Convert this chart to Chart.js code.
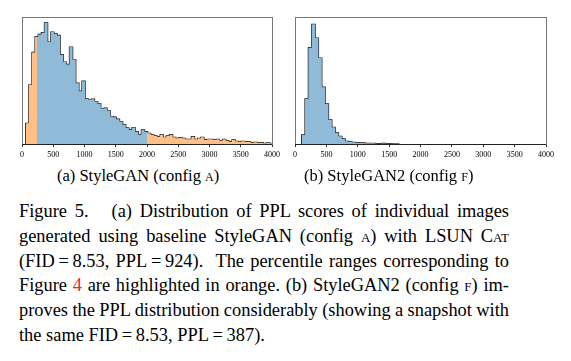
<!DOCTYPE html>
<html>
<head>
<meta charset="utf-8">
<script src="https://cdn.jsdelivr.net/npm/chart.js@4.4.0/dist/chart.umd.min.js"></script>
<style>
  body { margin:0; width:571px; height:361px; background:#fff; position:relative; overflow:hidden;
         font-family:"Liberation Serif","Times New Roman",serif; color:#000; }
  canvas { position:absolute; top:0; }
  #chartA { left:0; }
  #chartB { left:280px; }
  .cap { position:absolute; top:166px; font-size:16.5px; white-space:nowrap; }
  .sc { font-variant:small-caps; }
  #text { position:absolute; left:19px; top:199px; width:490px; font-size:18.4px; }
  #text div { height:24.8px; line-height:24.8px; text-align:justify; text-align-last:justify; word-spacing:-2px; }
  #text div.last { text-align-last:left; word-spacing:0; }
  .red { color:#e8262b; }
</style>
</head>
<body>
<canvas id="chartA" width="290" height="165"></canvas>
<canvas id="chartB" width="291" height="165"></canvas>
<div class="cap" style="left:57px">(a) StyleGAN (config <span class="sc">a</span>)</div>
<div class="cap" style="left:304px">(b) StyleGAN2 (config <span class="sc">f</span>)</div>
<div id="text">
  <div>Figure 5.&nbsp;&nbsp; (a) Distribution of PPL scores of individual images</div>
  <div>generated using baseline StyleGAN (config <span class="sc">a</span>) with LSUN C<span class="sc">at</span></div>
  <div>(FID&#8201;=&#8201;8.53, PPL&#8201;=&#8201;924).&nbsp; The percentile ranges corresponding to</div>
  <div>Figure <span class="red">4</span> are highlighted in orange. (b) StyleGAN2 (config <span class="sc">f</span>) im-</div>
  <div>proves the PPL distribution considerably (showing a snapshot with</div>
  <div class="last">the same FID&#8201;=&#8201;8.53, PPL&#8201;=&#8201;387).</div>
</div>
<script>
// x axis tick labels, shared by both panels
const tickValues = [0, 500, 1000, 1500, 2000, 2500, 3000, 3500, 4000];

// (a) StyleGAN config A: histogram bins (start, width) and counts
const binStartA = 60;
const binWidthA = 50;
const countsA = [
  62, 177, 274, 321, 328, 333, 362, 305, 335, 330,
  325, 267, 245, 238, 290, 252, 182, 158, 188, 135,
  133, 134, 127, 120, 106, 107, 100, 82, 80, 74,
  67, 57, 48, 42, 49, 37, 28, 42, 37, 32,
  27, 24, 22, 27, 20, 24, 28, 20, 17, 19,
  17, 14, 14, 22, 14, 17, 20, 12, 14, 14,
  12, 14, 10, 14, 10, 7, 12, 8, 6, 8,
  7, 6, 4, 5, 3, 4, 2, 3, 2, 2
];
// percentile ranges highlighted in orange
const orangeRangesA = [[0, 240], [2000, 4060]];
const blueRangesA = [[240, 2000]];

// (b) StyleGAN2 config F
const binStartB = 107;
const binWidthB = 53.3;
const countsB = [
  27, 135, 288, 358, 317, 257, 170, 120, 72,
  50, 33, 23, 15, 8, 6, 5, 4, 3, 3,
  2, 2, 2, 1, 1, 1.5, 1, 1, 0.5, 0.5
];

const BLUE = "#8fbbd9";
const ORANGE = "#ffbf86";
const YMAX = 380;

// bin index -> left edge
function edge(start, width, i) {
  return start + i * width;
}

// outline of the whole histogram as stepped points
function outline(start, width, counts) {
  const pts = [{ x: start, y: 0 }];
  counts.forEach((c, i) => pts.push({ x: edge(start, width, i), y: c }));
  pts.push({ x: edge(start, width, counts.length), y: 0 });
  return pts;
}

// part of the histogram between a and b (for the coloured fill)
function piece(start, width, counts, a, b) {
  const pts = [];
  const valueAt = (x) => {
    const i = Math.floor((x - start) / width);
    if (i < 0 || i >= counts.length) return 0;
    return counts[i];
  };
  const lo = Math.max(a, start);
  const hi = Math.min(b, edge(start, width, counts.length));
  pts.push({ x: lo, y: 0 });
  pts.push({ x: lo, y: valueAt(lo) });
  counts.forEach((c, i) => {
    const x = edge(start, width, i);
    if (x > lo && x < hi) pts.push({ x: x, y: c });
  });
  pts.push({ x: hi, y: 0 });
  return pts;
}

const framePlugin = {
  id: "frame",
  afterDatasetsDraw(chart) {
    const a = chart.chartArea;
    const ctx = chart.ctx;
    ctx.save();
    ctx.strokeStyle = "#777";
    ctx.lineWidth = 1;
    ctx.strokeRect(Math.round(a.left) + 0.5, Math.round(a.top) + 0.5,
      Math.round(a.right - a.left), Math.round(a.bottom - a.top));
    ctx.strokeStyle = "#222";
    ctx.beginPath();
    ctx.moveTo(a.left, Math.round(a.bottom) + 0.5);
    ctx.lineTo(a.right, Math.round(a.bottom) + 0.5);
    ctx.stroke();
    ctx.restore();
  }
};

function fillSet(data, color) {
  return {
    data: data,
    stepped: true,
    fill: "origin",
    backgroundColor: color,
    borderWidth: 0,
    pointRadius: 0
  };
}

function makeChart(id, start, width, counts, orange, blue, pad) {
  const datasets = [];
  orange.forEach((r) => datasets.push(fillSet(piece(start, width, counts, r[0], r[1]), ORANGE)));
  blue.forEach((r) => datasets.push(fillSet(piece(start, width, counts, r[0], r[1]), BLUE)));
  datasets.push({
    data: outline(start, width, counts),
    stepped: true,
    fill: false,
    borderColor: "#1a1a1a",
    borderWidth: 1.3,
    pointRadius: 0
  });

  return new Chart(document.getElementById(id), {
    type: "line",
    data: { datasets },
    options: {
      responsive: false,
      devicePixelRatio: 1,
      animation: false,
      events: [],
      layout: { padding: pad },
      plugins: { legend: { display: false }, tooltip: { enabled: false } },
      scales: {
        x: {
          type: "linear",
          min: 0,
          max: 4000,
          afterBuildTicks: (axis) => {
            axis.ticks = tickValues.map((v) => ({ value: v }));
          },
          afterFit: (axis) => { axis.height = 21; },
          grid: { drawOnChartArea: false, drawTicks: true, tickLength: 3, color: "#333" },
          border: { display: false },
          ticks: {
            maxRotation: 0,
            autoSkip: false,
            padding: 3,
            color: "#000",
            font: { family: "Liberation Serif", size: 8 },
            callback: (v) => String(v)
          }
        },
        y: { display: false, min: 0, max: YMAX }
      }
    },
    plugins: [framePlugin]
  });
}

makeChart("chartA", binStartA, binWidthA, countsA, orangeRangesA, blueRangesA,
  { left: 22, right: 18, top: 17, bottom: 0 });
makeChart("chartB", binStartB, binWidthB, countsB, [], [[0, 4000]],
  { left: 15, right: 25, top: 17, bottom: 0 });
</script>
</body>
</html>
